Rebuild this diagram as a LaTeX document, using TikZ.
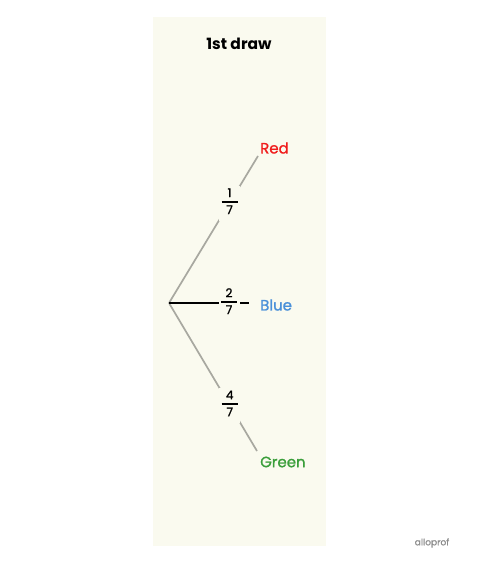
\documentclass[tikz,border=0pt]{standalone}
\usepackage{fontspec}
\setmainfont{Poppins}
\newfontfamily\medfont[FakeBold=1.2]{Poppins}
\definecolor{bgc}{HTML}{FAFAEF}
\definecolor{linec}{HTML}{A8A8A0}
\definecolor{redc}{HTML}{F01C1C}
\definecolor{bluec}{HTML}{4A90D9}
\definecolor{greenc}{HTML}{3A9E3A}
\newcommand{\fr}[2]{\begin{tabular}{@{}c@{}}#1\\[-4.5pt]\rule[2.8pt]{16pt}{1.5pt}\\[-4.5pt]#2\end{tabular}}
\tikzset{
  branch/.style={draw=linec, line width=1.7pt},
  chosen/.style={draw=black, line width=1.7pt},
  fracnode/.style={fill=bgc, inner sep=2.5pt, font=\medfont\fontsize{12}{13}\selectfont},
  outcome/.style={anchor=west, inner sep=0pt, font=\medfont\fontsize{15}{16}\selectfont},
}
\begin{document}
\begin{tikzpicture}[x=1pt,y=-1pt]
\useasboundingbox (0,0) rectangle (480,562);
\fill[bgc] (153,17) rectangle (326,546);
\node[font=\bfseries\fontsize{15.5}{17}\selectfont] (title) at (239,44) {1st draw};
\coordinate (root) at (169,303);
\coordinate (rend) at (258,156);
\coordinate (bend) at (249,303);
\coordinate (gend) at (257,451);
\draw[branch] (root) -- (rend) node[fracnode, pos=0.68] (f1) {\fr{1}{7}};
\draw[branch] (root) -- (gend) node[fracnode, pos=0.69] (f3) {\fr{4}{7}};
\draw[chosen] (root) -- (bend) node[fracnode, pos=0.75] (f2) {\fr{2}{7}};
\node[outcome, text=redc] (red) at (260,148) {Red};
\node[outcome, text=bluec] (blue) at (260,305) {Blue};
\node[outcome, text=greenc] (green) at (260,462) {Green};
\node[text=black!45, font=\medfont\fontsize{9}{10}\selectfont] (logo) at (432,543) {alloprof};
\end{tikzpicture}
\end{document}
